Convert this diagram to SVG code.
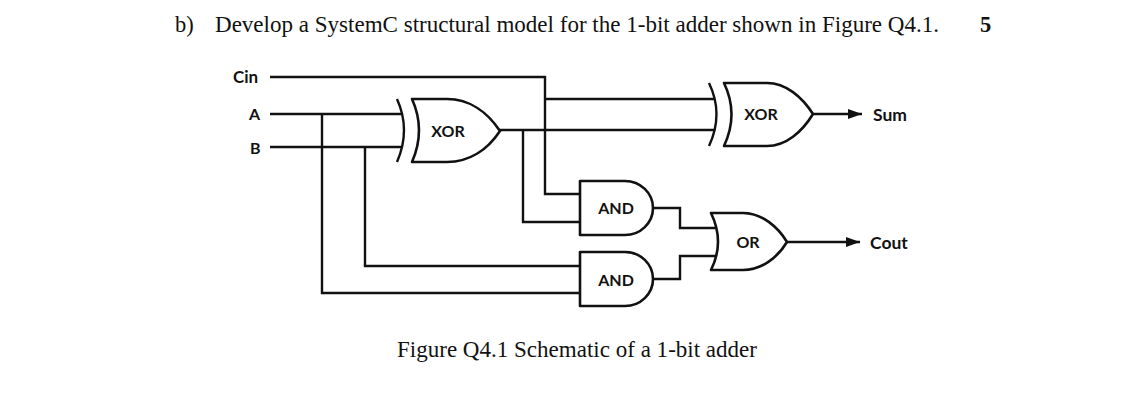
<svg xmlns="http://www.w3.org/2000/svg" width="1141" height="400" viewBox="0 0 1141 400">
<style>
.g{fill:#fff;stroke:#111;stroke-width:2.6;stroke-linejoin:round}
.w{fill:none;stroke:#111;stroke-width:2.4}
.l{font-family:"Lato","Liberation Sans",sans-serif;font-weight:700;font-size:16px;fill:#111}
.e{font-size:17.5px}
.c{text-anchor:middle}
.t{font-family:"Liberation Serif",serif;font-size:22.5px;fill:#111}
</style>
<defs><marker id="a" markerUnits="userSpaceOnUse" markerWidth="15" markerHeight="12" refX="14" refY="5" orient="auto"><path d="M0 0L14 5L0 10Z" fill="#111"/></marker></defs>
<rect width="1141" height="400" fill="#fff"/>
<text class="t" x="175" y="32">b)</text>
<text class="t" x="215" y="32" textLength="724" lengthAdjust="spacingAndGlyphs">Develop a SystemC structural model for the 1-bit adder shown in Figure Q4.1.</text>
<text class="t" x="980" y="32" font-weight="700">5</text>
<text class="t" x="397" y="357" textLength="360" lengthAdjust="spacingAndGlyphs">Figure Q4.1 Schematic of a 1-bit adder</text>
<g id="connectors">
<path class="w" d="M270 77H545V194H580"/>
<path class="w" d="M270 114H403"/>
<path class="w" d="M270 147H403"/>
<path class="w" d="M322 114V293H580"/>
<path class="w" d="M365 147V266H580"/>
<path class="w" d="M545 99H715"/>
<path class="w" d="M500 130H715"/>
<path class="w" d="M523 130V222H580"/>
<path class="w" d="M653 208H680V228H716"/>
<path class="w" d="M653 279H680V256H716"/>
<path class="w" d="M813 114H862" marker-end="url(#a)"/>
<path class="w" d="M787 242H860" marker-end="url(#a)"/>
</g>
<g id="label-cin"><text class="l" x="233" y="83" font-size="17" style="font-size:17px">Cin</text></g>
<g id="label-a"><text class="l" x="249" y="120">A</text></g>
<g id="label-b"><text class="l" x="250" y="154">B</text></g>
<g id="label-sum"><text class="l e" x="873" y="121">Sum</text></g>
<g id="label-cout"><text class="l e" x="870" y="249">Cout</text></g>
<g id="xor1">
<path class="w" d="M397 99Q411 130 397 162"/>
<path class="g" d="M412 99H447C470 99 488 113 500 131C488 149 470 162 447 162H412Q426 130 412 99Z"/>
<text class="l c" x="448" y="137">XOR</text>
</g>
<g id="xor2">
<path class="w" d="M709 83Q724 114 709 146"/>
<path class="g" d="M724 83H767C786 83 802 97 813 114C802 132 786 146 767 146H724Q739 114 724 83Z"/>
<text class="l c" x="761" y="120">XOR</text>
</g>
<g id="and1">
<path class="g" d="M580 181H625A28 27 0 0 1 625 235H580Z"/>
<text class="l c" x="616" y="214">AND</text>
</g>
<g id="and2">
<path class="g" d="M580 252H625A28 27 0 0 1 625 306H580Z"/>
<text class="l c" x="616" y="286">AND</text>
</g>
<g id="or">
<path class="g" d="M711 213H743C762 213 778 227 787 242C778 257 762 270 743 270H711Q725 242 711 213Z"/>
<text class="l c" x="748" y="248">OR</text>
</g>
</svg>
